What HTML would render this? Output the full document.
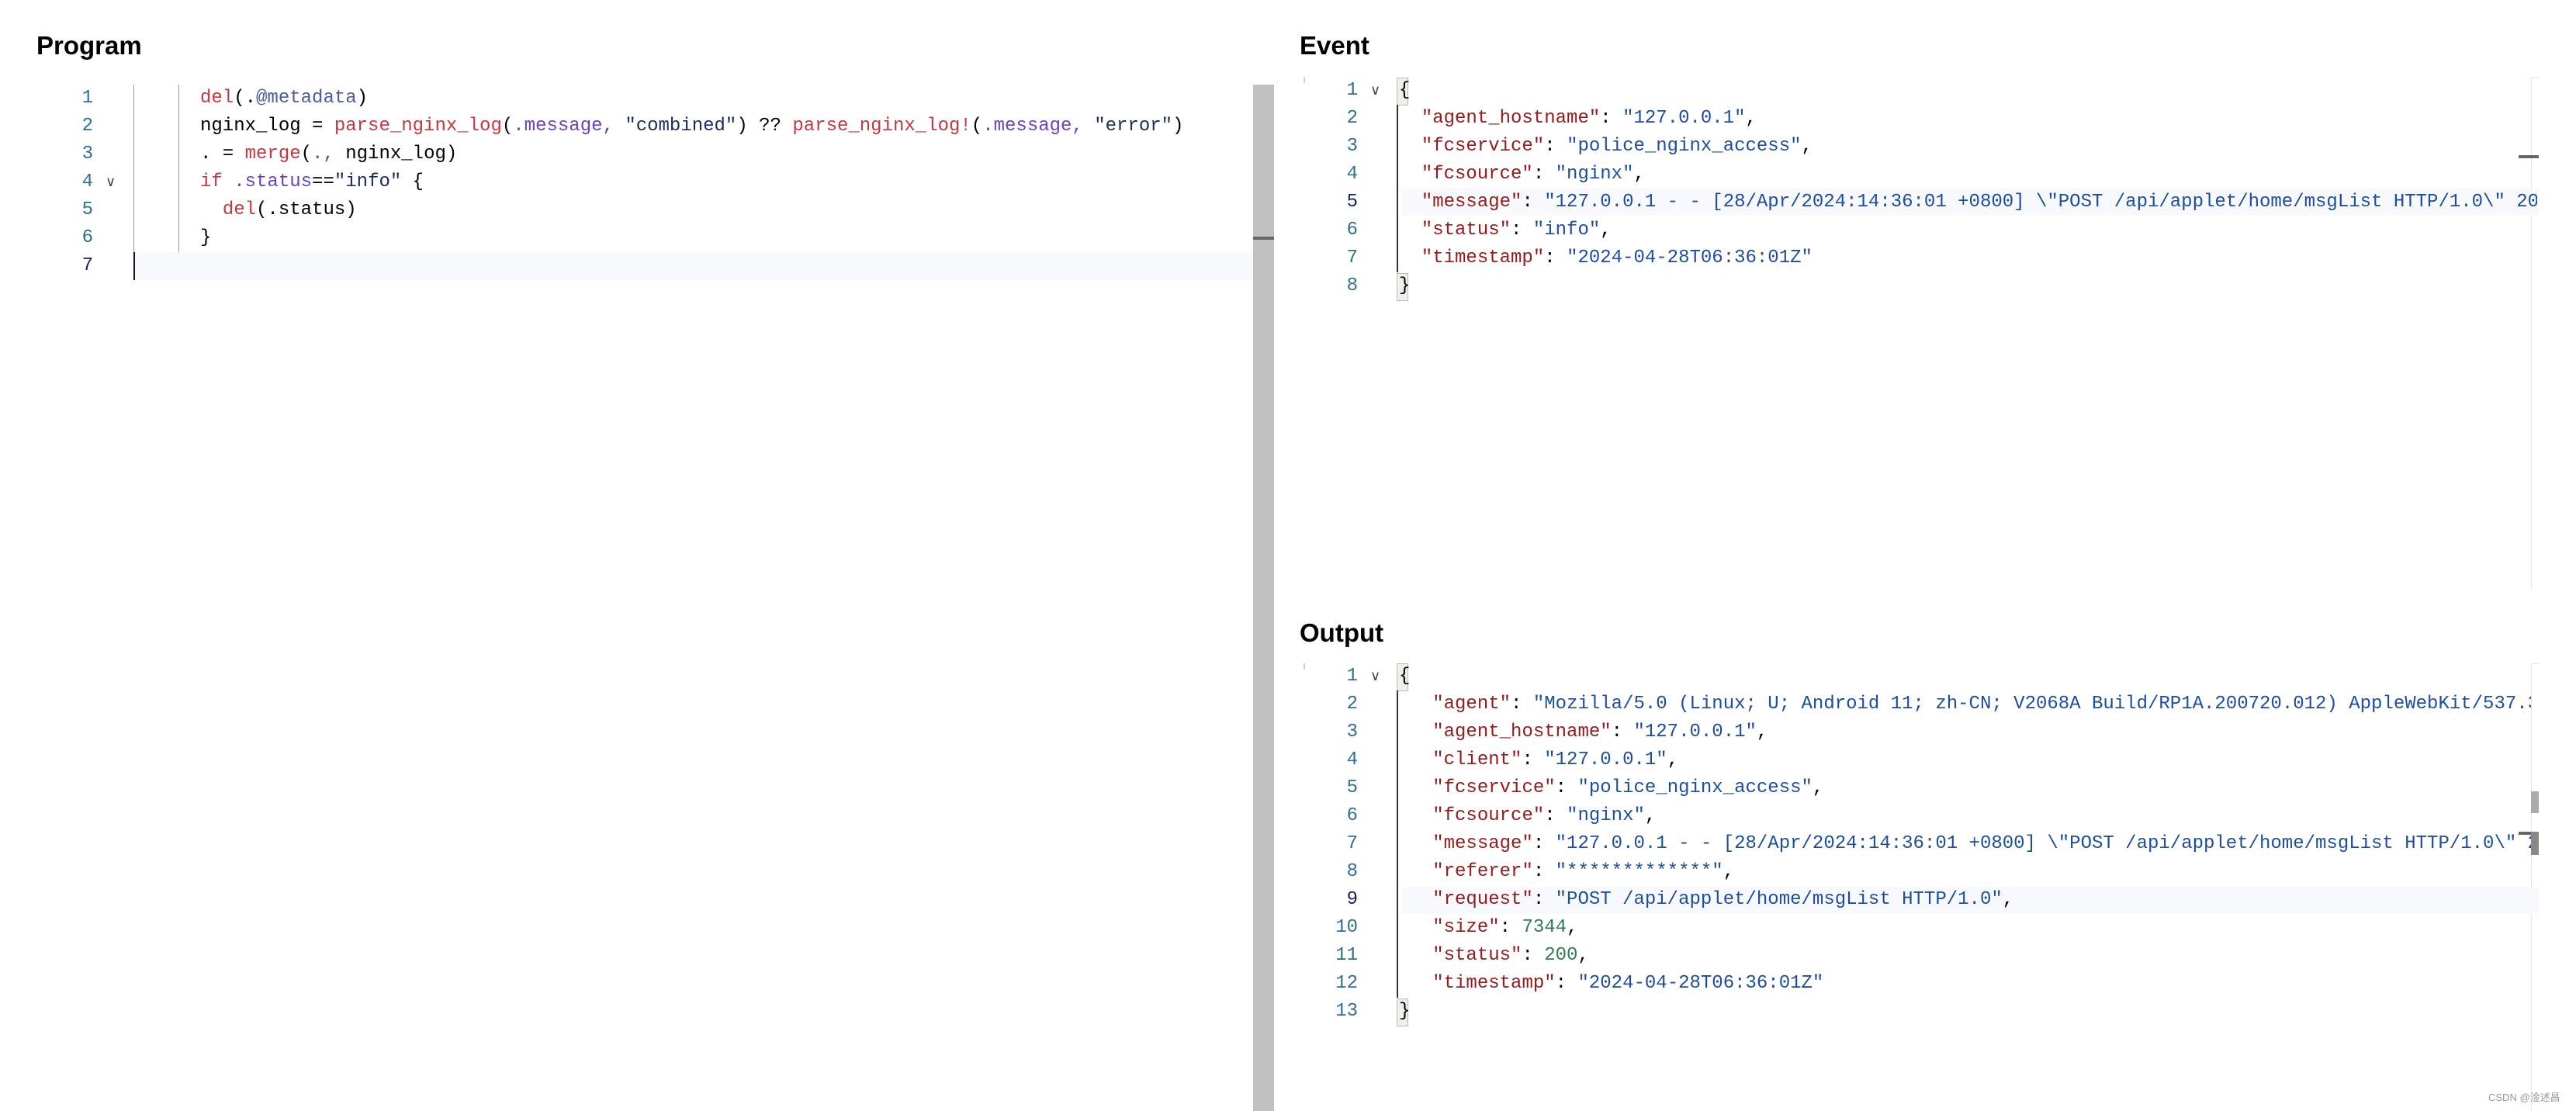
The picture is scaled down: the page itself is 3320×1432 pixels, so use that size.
<!DOCTYPE html>
<html><head><meta charset="utf-8"><style>
html,body{margin:0;padding:0;width:3320px;height:1432px;background:#fff;overflow:hidden;position:relative}
.t{position:absolute;font-family:"Liberation Sans",sans-serif;font-weight:bold;font-size:33px;color:#000}
.m{position:absolute;font-family:"Liberation Mono","DejaVu Sans Mono",monospace;font-size:24px;line-height:36px;white-space:pre;color:#000}
.ln{position:absolute;font-family:"Liberation Mono",monospace;font-size:24px;line-height:36px;color:#2f6f8f;text-align:right;width:60px}
.fn{color:#c7373f}.pr{color:#6a3fc2}.s{color:#1a2b5f}.mt{color:#4a5aa8}
.k{color:#961a1a}.v{color:#1c4ea0}.n{color:#2e7d4f}
.fold{position:absolute;font-family:"DejaVu Sans",sans-serif;font-size:18px;color:#444}
.clip{position:absolute;overflow:hidden}
</style></head><body>
<div class="t" style="left:47px;top:40px">Program</div>
<div class="t" style="left:1675px;top:40px">Event</div>
<div class="t" style="left:1675px;top:797px">Output</div>

<div style="position:absolute;left:172px;top:325px;width:1443px;height:36px;background:#f8f9fc"></div>
<div style="position:absolute;left:172px;top:109px;width:1px;height:216px;background:#999"></div>
<div style="position:absolute;left:172px;top:325px;width:2px;height:36px;background:#111"></div>
<div style="position:absolute;left:230px;top:109px;width:1px;height:216px;background:#999"></div>
<div class="ln" style="left:60px;top:109px">1<br>2<br>3<br>4<br>5<br>6<br><span style="color:#1a2060">7</span></div>
<div class="fold" style="left:136px;top:224px">∨</div>
<div class="m" style="left:258px;top:109px"><span class="fn">del</span>(.<span class="mt">@metadata</span>)
nginx_log = <span class="fn">parse_nginx_log</span>(<span class="pr">.message,</span> <span class="s">"combined"</span>) ?? <span class="fn">parse_nginx_log!</span>(<span class="pr">.message,</span> <span class="s">"error"</span>)
. = <span class="fn">merge</span>(<span class="pr">.,</span> nginx_log)
<span class="fn">if</span> <span class="pr">.status</span>==<span class="s">"info"</span> {
  <span class="fn">del</span>(.status)
}</div>

<div style="position:absolute;left:1615px;top:109px;width:27px;height:1323px;background:#c1c1c1"></div>
<div style="position:absolute;left:1615px;top:305px;width:27px;height:4px;background:#666"></div>

<div style="position:absolute;left:1680px;top:99px;width:2px;height:8px;background:#ccc"></div>
<div style="position:absolute;left:3262px;top:99px;width:1px;height:660px;background:#e4e4e4"></div>
<div style="position:absolute;left:3262px;top:99px;width:10px;height:1px;background:#e4e4e4"></div>
<div style="position:absolute;left:3246px;top:200px;width:26px;height:4px;background:#666"></div>
<div style="position:absolute;left:1806px;top:243px;width:1466px;height:35px;background:#f7f9fc"></div>
<div style="position:absolute;left:1800px;top:100px;width:13px;height:34px;background:#eef0ea;border:1px solid #bbb"></div>
<div style="position:absolute;left:1800px;top:135px;width:2px;height:216px;background:#333"></div>
<div style="position:absolute;left:1800px;top:352px;width:13px;height:34px;background:#eef0ea;border:1px solid #bbb"></div>
<div class="ln" style="left:1690px;top:99px">1<br>2<br>3<br>4<br><span style="color:#1a2060">5</span><br>6<br>7<br>8</div>
<div class="fold" style="left:1766px;top:106px">∨</div>
<div class="clip" style="left:1800px;top:99px;width:1470px;height:300px">
<div class="m" style="left:3px;top:0">{
  <span class="k">"agent_hostname"</span>: <span class="v">"127.0.0.1"</span>,
  <span class="k">"fcservice"</span>: <span class="v">"police_nginx_access"</span>,
  <span class="k">"fcsource"</span>: <span class="v">"nginx"</span>,
  <span class="k">"message"</span>: <span class="v">"127.0.0.1 - - [28/Apr/2024:14:36:01 +0800] \"POST /api/applet/home/msgList HTTP/1.0\" 200 7344</span>
  <span class="k">"status"</span>: <span class="v">"info"</span>,
  <span class="k">"timestamp"</span>: <span class="v">"2024-04-28T06:36:01Z"</span>
}</div></div>

<div style="position:absolute;left:1680px;top:855px;width:2px;height:8px;background:#ccc"></div>
<div style="position:absolute;left:3262px;top:855px;width:1px;height:577px;background:#e4e4e4"></div>
<div style="position:absolute;left:3262px;top:855px;width:10px;height:1px;background:#e4e4e4"></div>
<div style="position:absolute;left:3262px;top:1020px;width:10px;height:28px;background:#aaa"></div>
<div style="position:absolute;left:3246px;top:1072px;width:26px;height:4px;background:#666"></div>
<div style="position:absolute;left:3262px;top:1072px;width:10px;height:30px;background:#888"></div>
<div style="position:absolute;left:1806px;top:1143px;width:1466px;height:35px;background:#f7f9fc"></div>
<div style="position:absolute;left:1800px;top:855px;width:13px;height:34px;background:#eef0ea;border:1px solid #bbb"></div>
<div style="position:absolute;left:1800px;top:890px;width:2px;height:396px;background:#333"></div>
<div style="position:absolute;left:1800px;top:1287px;width:13px;height:34px;background:#eef0ea;border:1px solid #bbb"></div>
<div class="ln" style="left:1690px;top:854px">1<br>2<br>3<br>4<br>5<br>6<br>7<br>8<br><span style="color:#1a2060">9</span><br>10<br>11<br>12<br>13</div>
<div class="fold" style="left:1766px;top:861px">∨</div>
<div class="clip" style="left:1800px;top:854px;width:1462px;height:480px">
<div class="m" style="left:3px;top:0">{
   <span class="k">"agent"</span>: <span class="v">"Mozilla/5.0 (Linux; U; Android 11; zh-CN; V2068A Build/RP1A.200720.012) AppleWebKit/537.36</span>
   <span class="k">"agent_hostname"</span>: <span class="v">"127.0.0.1"</span>,
   <span class="k">"client"</span>: <span class="v">"127.0.0.1"</span>,
   <span class="k">"fcservice"</span>: <span class="v">"police_nginx_access"</span>,
   <span class="k">"fcsource"</span>: <span class="v">"nginx"</span>,
   <span class="k">"message"</span>: <span class="v">"127.0.0.1 - - [28/Apr/2024:14:36:01 +0800] \"POST /api/applet/home/msgList HTTP/1.0\" 200</span>
   <span class="k">"referer"</span>: <span class="v">"*************"</span>,
   <span class="k">"request"</span>: <span class="v">"POST /api/applet/home/msgList HTTP/1.0"</span>,
   <span class="k">"size"</span>: <span class="n">7344</span>,
   <span class="k">"status"</span>: <span class="n">200</span>,
   <span class="k">"timestamp"</span>: <span class="v">"2024-04-28T06:36:01Z"</span>
}</div></div>

<div style="position:absolute;left:3207px;top:1404px;font-family:'Liberation Sans','Noto Sans CJK SC',sans-serif;font-size:13px;color:#999">CSDN @淦述昌</div>
</body></html>
